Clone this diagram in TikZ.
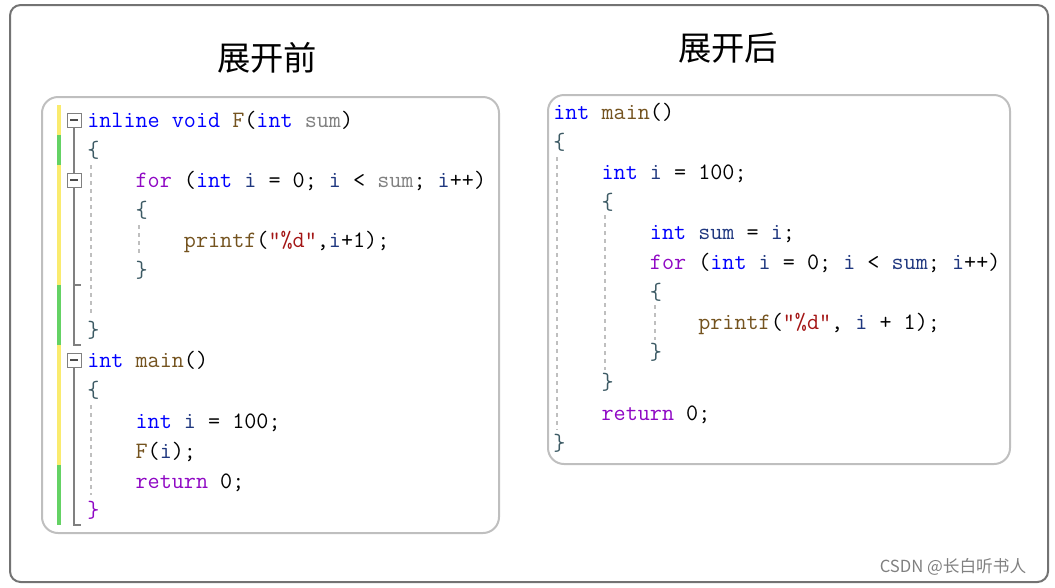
\documentclass[tikz,border=0pt]{standalone}
\usepackage{fontspec}
\newfontfamily\cjk{Noto Sans CJK SC}
\definecolor{kw}{RGB}{0,0,255}
\definecolor{ctl}{RGB}{143,8,196}
\definecolor{fn}{RGB}{116,83,31}
\definecolor{str}{RGB}{163,21,21}
\definecolor{idc}{RGB}{31,55,127}
\definecolor{prm}{RGB}{128,128,128}
\definecolor{brc}{RGB}{60,90,100}
\definecolor{barYellow}{RGB}{250,235,110}
\definecolor{barGreen}{RGB}{100,210,100}
\newcommand{\K}[1]{\textcolor{kw}{#1}}
\newcommand{\C}[1]{\textcolor{ctl}{#1}}
\newcommand{\F}[1]{\textcolor{fn}{#1}}
\newcommand{\St}[1]{\textcolor{str}{#1}}
\newcommand{\I}[1]{\textcolor{idc}{#1}}
\newcommand{\Pm}[1]{\textcolor{prm}{#1}}
\newcommand{\B}[1]{\textcolor{brc}{#1}}
\begin{document}
\begin{tikzpicture}[x=0.75pt,y=-0.75pt,
  code/.style={anchor=base west,inner sep=0pt,font=\ttfamily\fontsize{17.6pt}{19pt}\selectfont},
  panel/.style={draw=black!25,line width=1.5pt,rounded corners=12pt},
  guide/.style={draw=black!25,dashed,line width=0.8pt},
  title/.style={font=\cjk\fontsize{25pt}{28pt}\selectfont}]
\useasboundingbox (0,0) rectangle (1055,587);
\draw[draw=black!55,line width=1.5pt,rounded corners=8pt] (10,5) rectangle (1048,582);
\node[title] (t1) at (267,58) {展开前};
\node[title] (t2) at (728,48) {展开后};
\node[font=\cjk\fontsize{12.5pt}{14pt}\selectfont,text=black!50] (wm) at (953,567) {CSDN @长白听书人};
% left panel
\draw[panel] (42,97) rectangle (499,533);
\fill[barYellow] (57,105) rectangle (61,135);
\fill[barGreen] (57,135) rectangle (61,165);
\fill[barYellow] (57,165) rectangle (61,285);
\fill[barGreen] (57,285) rectangle (61,345);
\fill[barYellow] (57,345) rectangle (61,465);
\fill[barGreen] (57,465) rectangle (61,525);
\foreach \y in {120,180,360}{
  \draw[black!50,fill=white] (67,\y-7) rectangle (81,\y+7);
  \draw[black!70,line width=1pt] (70,\y) -- (78,\y);}
\draw[black!50,line width=1pt] (74,127) -- (74,173) (74,187) -- (74,345) -- (81,345);
\draw[black!50,line width=1pt] (74,187) -- (74,285) -- (81,285);
\draw[black!50,line width=1pt] (74,367) -- (74,525) -- (81,525);
\draw[guide] (91,165) -- (91,315);
\draw[guide] (91,405) -- (91,495);
\draw[guide] (139,225) -- (139,255);
\node[code] (a1) at (87,127) {\K{inline} \K{void} \F{F}(\K{int} \Pm{sum})};
\node[code] (a2) at (87,157) {\B{\{}};
\node[code] (a3) at (87,187) {\phantom{xxxx}\C{for} (\K{int} \I{i} = 0; \I{i} < \Pm{sum}; \I{i}++)};
\node[code] (a4) at (87,217) {\phantom{xxxx}\B{\{}};
\node[code] (a5) at (87,247) {\phantom{xxxxxxxx}\F{printf}(\St{"\%d"},\I{i}+1);};
\node[code] (a6) at (87,277) {\phantom{xxxx}\B{\}}};
\node[code] (a7) at (87,337) {\B{\}}};
\node[code] (a8) at (87,367) {\K{int} \F{main}()};
\node[code] (a9) at (87,397) {\B{\{}};
\node[code] (a10) at (87,428) {\phantom{xxxx}\K{int} \I{i} = 100;};
\node[code] (a11) at (87,458) {\phantom{xxxx}\F{F}(\I{i});};
\node[code] (a12) at (87,488) {\phantom{xxxx}\C{return} 0;};
\node[code] (a13) at (87,517) {\textcolor{ctl}{\}}};
% right panel
\draw[panel] (548,95) rectangle (1010,464);
\draw[guide] (557,157) -- (557,430);
\draw[guide] (605,215) -- (605,370);
\draw[guide] (655,305) -- (655,340);
\node[code] (b1) at (553,119) {\K{int} \F{main}()};
\node[code] (b2) at (553,149) {\B{\{}};
\node[code] (b3) at (553,179) {\phantom{xxxx}\K{int} \I{i} = 100;};
\node[code] (b4) at (553,209) {\phantom{xxxx}\B{\{}};
\node[code] (b5) at (553,239) {\phantom{xxxxxxxx}\K{int} \I{sum} = \I{i};};
\node[code] (b6) at (553,269) {\phantom{xxxxxxxx}\C{for} (\K{int} \I{i} = 0; \I{i} < \I{sum}; \I{i}++)};
\node[code] (b7) at (553,299) {\phantom{xxxxxxxx}\B{\{}};
\node[code] (b8) at (553,329) {\phantom{xxxxxxxxxxxx}\F{printf}(\St{"\%d"}, \I{i} + 1);};
\node[code] (b9) at (553,359) {\phantom{xxxxxxxx}\B{\}}};
\node[code] (b10) at (553,389) {\phantom{xxxx}\B{\}}};
\node[code] (b11) at (553,420) {\phantom{xxxx}\C{return} 0;};
\node[code] (b12) at (553,450) {\B{\}}};
\end{tikzpicture}
\end{document}
